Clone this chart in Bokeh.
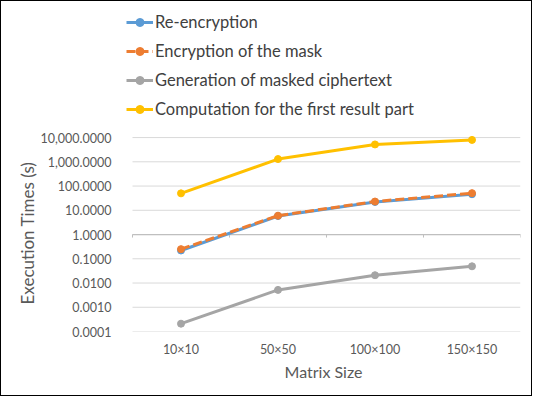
from bokeh.plotting import figure
from bokeh.embed import file_html
from bokeh.resources import INLINE
from bokeh.models import FixedTicker, NumeralTickFormatter, Legend, LegendItem, Title

# данные
sizes = ["10×10", "50×50", "100×100", "150×150"]
x = [1, 2, 3, 4]
re_encryption = [0.22, 5.8, 22.0, 46.0]
mask_encryption = [0.25, 6.0, 23.0, 51.0]
masked_ciphertext = [0.00021, 0.0052, 0.021, 0.049]
first_result_part = [50.0, 1300.0, 5200.0, 8000.0]
y_ticks = [0.0001, 0.001, 0.01, 0.1, 1, 10, 100, 1000, 10000]

FONT = "Lato"
TEXT_COLOR = "#595959"

# рамка графика тянется до верха и чуть левее, чтобы легенда поместилась внутри
p = figure(
    width=532, height=396,
    y_axis_type="log",
    x_range=(0.438, 4.5), y_range=(0.0001, 4.1e9),
    x_axis_label="Matrix Size",
    output_backend="svg", toolbar_location=None, tools="",
    min_border_left=125, min_border_right=13,
    min_border_top=0, min_border_bottom=66,
    styles={"border": "1px solid #000000"},
)
p.outline_line_color = None
p.grid.visible = False

# сетка рисуется только в пределах категорий
n = len(y_ticks)
p.segment(x0=[0.5] * n, y0=y_ticks, x1=[4.5] * n, y1=y_ticks,
          line_color="#D9D9D9", line_width=1)

# горизонтальная ось пересекает значение 1
bounds = [0.5, 1.5, 2.5, 3.5, 4.5]
p.segment(x0=[0.5], y0=[1], x1=[4.5], y1=[1], line_color="#BFBFBF", line_width=1.2)
p.segment(x0=bounds, y0=[1] * 5, x1=bounds, y1=[0.75] * 5, line_color="#BFBFBF", line_width=1)

# ось Y
p.yaxis.ticker = FixedTicker(ticks=y_ticks)
p.yaxis.formatter = NumeralTickFormatter(format="0,0.0000")
p.yaxis.axis_line_color = None
p.yaxis.major_tick_line_color = None
p.yaxis.minor_tick_line_color = None
p.yaxis.major_label_standoff = 9

# подпись оси Y смещена к центру области с сеткой
p.add_layout(Title(text="Execution Times (s)", align="left", offset=27, standoff=0,
                   text_font=FONT, text_font_size="17px", text_font_style="normal",
                   text_color=TEXT_COLOR), "left")

# ось X
p.xaxis.ticker = FixedTicker(ticks=x)
p.xaxis.major_label_overrides = {xi: s for xi, s in zip(x, sizes)}
p.xaxis.axis_line_color = None
p.xaxis.major_tick_line_color = None
p.xaxis.minor_tick_line_color = None
p.xaxis.major_label_standoff = 4
p.xaxis.axis_label_standoff = 2
p.xaxis.axis_label_text_font = FONT
p.xaxis.axis_label_text_font_size = "16px"
p.xaxis.axis_label_text_font_style = "normal"
p.xaxis.axis_label_text_color = TEXT_COLOR

for ax in (p.xaxis, p.yaxis):
    ax.major_label_text_font = FONT
    ax.major_label_text_font_size = "12.5px"
    ax.major_label_text_color = TEXT_COLOR

series = [
    ("Re-encryption", re_encryption, "#5B9BD5", "solid"),
    ("Encryption of the mask", mask_encryption, "#ED7D31", "9 4"),
    ("Generation of masked ciphertext", masked_ciphertext, "#A5A5A5", "solid"),
    ("Computation for the first result part", first_result_part, "#FFC000", "solid"),
]

items = []
for label, vals, color, dash in series:
    ln = p.line(x, vals, line_color=color, line_width=3, line_dash=dash)
    pt = p.scatter(x, vals, size=7, fill_color=color, line_color=color)
    items.append(LegendItem(label=label, renderers=[ln, pt]))

legend = Legend(
    items=items, location=(0, 212),
    glyph_width=27, glyph_height=20, label_height=20,
    label_standoff=2, spacing=9, padding=0, margin=0,
    label_text_font=FONT, label_text_font_size="16.5px", label_text_color="#404040",
    background_fill_alpha=0, border_line_color=None,
)
p.add_layout(legend, "center")

open("out.html", "w").write(file_html(p, INLINE))
